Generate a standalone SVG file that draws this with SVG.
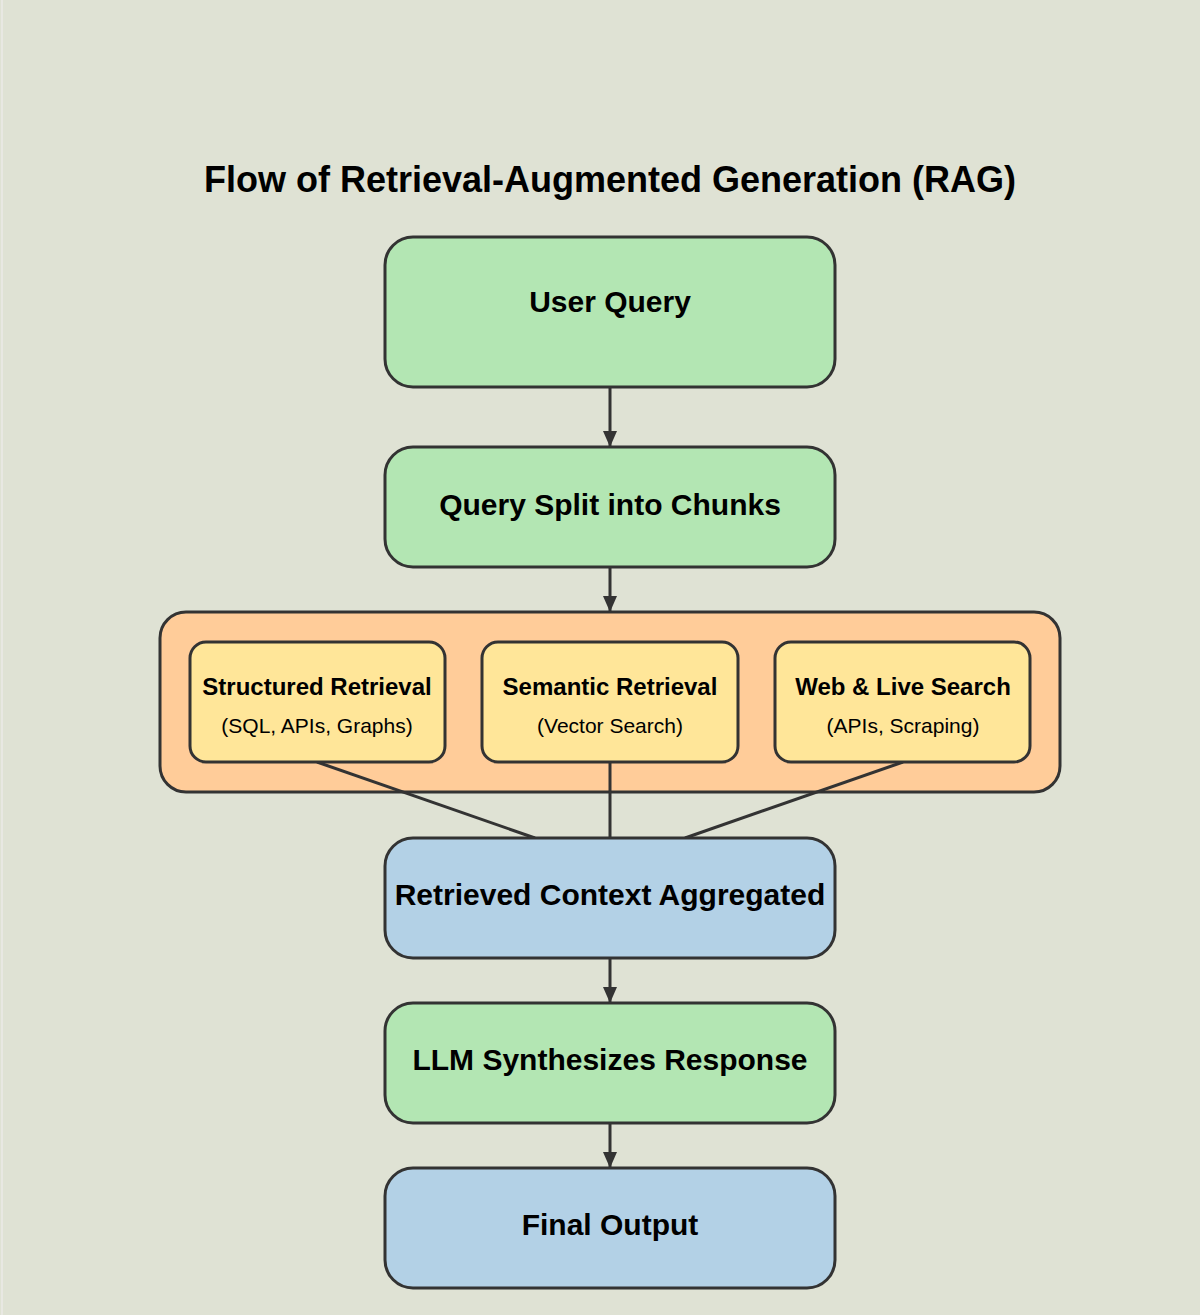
<svg xmlns="http://www.w3.org/2000/svg" width="1200" height="1315" viewBox="0 0 1200 1315">
<defs>
<marker id="ah" viewBox="0 0 16 14" refX="16" refY="7" markerWidth="16" markerHeight="14" markerUnits="userSpaceOnUse" orient="auto">
<path d="M0,0 L16,7 L0,14 Z" fill="#333"/>
</marker>
<style>
.box{stroke:#333;stroke-width:3}
.g{fill:#b3e6b3}
.b{fill:#b3d1e6}
.o{fill:#ffcc99}
.y{fill:#ffe699}
.t{font-family:"Liberation Sans",Arial,sans-serif;font-weight:bold;fill:#000;text-anchor:middle}
.s{font-family:"Liberation Sans",Arial,sans-serif;fill:#000;text-anchor:middle}
.c{stroke:#333;stroke-width:3;fill:none}
</style>
</defs>
<rect width="1200" height="1315" fill="#dfe2d4"/>
<line x1="2" y1="0" x2="2" y2="1315" stroke="#e8e8e2" stroke-width="2"/>
<text class="t" x="610" y="192" font-size="36">Flow of Retrieval-Augmented Generation (RAG)</text>
<g id="container">
<rect class="box o" x="160" y="612" width="900" height="180" rx="26"/>
</g>
<g id="connectors">
<line class="c" x1="610" y1="387" x2="610" y2="447" marker-end="url(#ah)"/>
<line class="c" x1="610" y1="567" x2="610" y2="612" marker-end="url(#ah)"/>
<line class="c" x1="317" y1="762" x2="535" y2="838"/>
<line class="c" x1="610" y1="762" x2="610" y2="838"/>
<line class="c" x1="903" y1="762" x2="685" y2="838"/>
<line class="c" x1="610" y1="958" x2="610" y2="1003" marker-end="url(#ah)"/>
<line class="c" x1="610" y1="1123" x2="610" y2="1168" marker-end="url(#ah)"/>
</g>
<g id="user-query">
<rect class="box g" x="385" y="237" width="450" height="150" rx="28"/>
<text class="t" x="610" y="312" font-size="30">User Query</text>
</g>
<g id="query-split">
<rect class="box g" x="385" y="447" width="450" height="120" rx="28"/>
<text class="t" x="610" y="515" font-size="30">Query Split into Chunks</text>
</g>
<g id="structured">
<rect class="box y" x="190" y="642" width="255" height="120" rx="16"/>
<text class="t" x="317" y="695" font-size="24">Structured Retrieval</text>
<text class="s" x="317" y="733" font-size="21">(SQL, APIs, Graphs)</text>
</g>
<g id="semantic">
<rect class="box y" x="482" y="642" width="256" height="120" rx="16"/>
<text class="t" x="610" y="695" font-size="24">Semantic Retrieval</text>
<text class="s" x="610" y="733" font-size="21">(Vector Search)</text>
</g>
<g id="web">
<rect class="box y" x="775" y="642" width="255" height="120" rx="16"/>
<text class="t" x="903" y="695" font-size="24">Web &amp; Live Search</text>
<text class="s" x="903" y="733" font-size="21">(APIs, Scraping)</text>
</g>
<g id="retrieved">
<rect class="box b" x="385" y="838" width="450" height="120" rx="28"/>
<text class="t" x="610" y="905" font-size="30">Retrieved Context Aggregated</text>
</g>
<g id="llm">
<rect class="box g" x="385" y="1003" width="450" height="120" rx="28"/>
<text class="t" x="610" y="1070" font-size="30">LLM Synthesizes Response</text>
</g>
<g id="final">
<rect class="box b" x="385" y="1168" width="450" height="120" rx="28"/>
<text class="t" x="610" y="1235" font-size="30">Final Output</text>
</g>
</svg>
